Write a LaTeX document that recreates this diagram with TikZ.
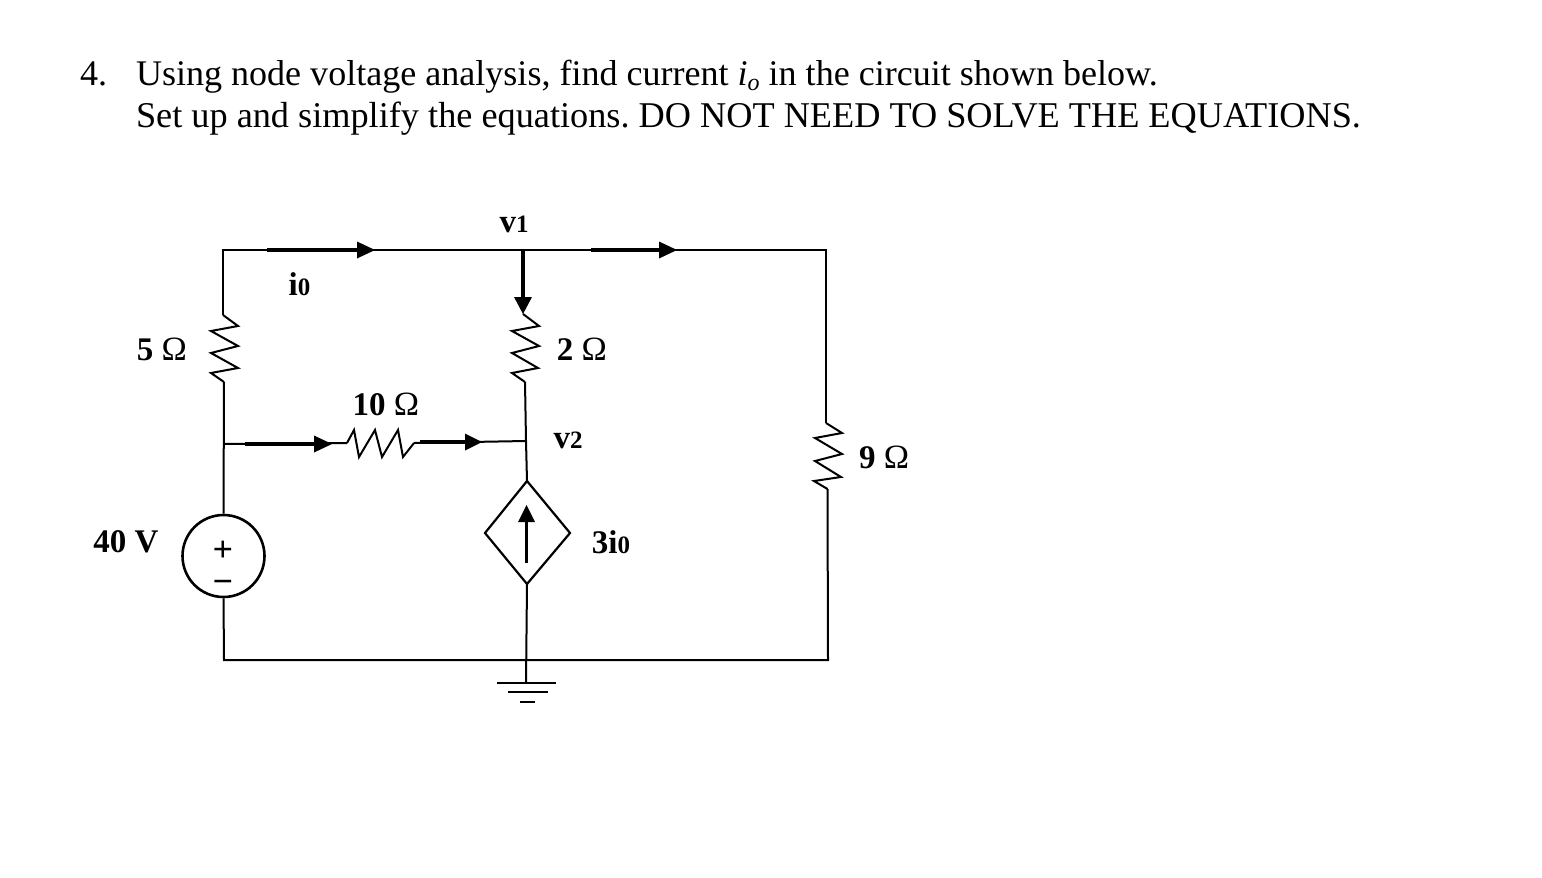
\documentclass[tikz,border=0pt]{standalone}
\usepackage{fontspec}
\setmainfont{Liberation Serif}
\usetikzlibrary{arrows.meta}
\newcommand{\bigsub}[2]{#1{\fontsize{25}{25}\selectfont #2}}
\newcommand{\ohm}{{\mdseries\fontsize{34}{34}\selectfont Ω}}
\tikzset{
  x=1pt,y=-1pt,
  wire/.style={line width=2pt,line join=miter,black},
  thickw/.style={line width=3.2pt,black},
  zig/.style={line width=2pt,line join=miter,black},
  tip/.style={fill=black,draw=none},
  prob/.style={anchor=base west,inner sep=0,outer sep=0,font=\fontsize{36.05}{42}\selectfont},
  probb/.style={anchor=base west,inner sep=0,outer sep=0,font=\fontsize{36.27}{42}\selectfont},
  lab/.style={inner sep=0,outer sep=0,font=\bfseries\fontsize{33}{33}\selectfont},
  sgn/.style={inner sep=0,outer sep=0,font=\bfseries\fontsize{36}{36}\selectfont},
}
\begin{document}
\frenchspacing
\begin{tikzpicture}
\useasboundingbox (0,0) rectangle (1542,878);
\fill[white] (0,0) rectangle (1542,878);
% text
\node[prob] (num) at (80,85) {4.};
\node[prob] (l1) at (136,85) {Using node voltage analysis, find current \textit{i}\raisebox{-5pt}{\fontsize{24}{24}\selectfont\textit{o}} in the circuit shown below.};
\node[probb] (l2) at (136,127) {Set up and simplify the equations. DO NOT NEED TO SOLVE THE EQUATIONS.};
% nodes
\coordinate (tl) at (223,250);
\coordinate (tm) at (523,250);
\coordinate (tr) at (826,250);
\coordinate (r5t) at (223,315);
\coordinate (r5b) at (224,382);
\coordinate (j) at (224,444);
\coordinate (st) at (224,515);
\coordinate (sb) at (224,597);
\coordinate (bl) at (224,660);
\coordinate (bm) at (526,660);
\coordinate (br) at (828,660);
\coordinate (r2t) at (523,314);
\coordinate (r2b) at (525,382);
\coordinate (v2) at (526,441);
\coordinate (r10l) at (347,443);
\coordinate (r10r) at (414,443);
\coordinate (r9t) at (826,423);
\coordinate (r9b) at (827.5,489);
\coordinate (gnd) at (526,683);
\coordinate (a1s) at (267,250);\coordinate (a1e) at (358,250);\coordinate (a1t) at (375,250);
\coordinate (a2s) at (591,250);\coordinate (a2e) at (659,250);\coordinate (a2t) at (677,250);
\coordinate (a3e) at (523,297);
\coordinate (a4s) at (245,444);\coordinate (a4e) at (314,444);\coordinate (a4t) at (332,444);
\coordinate (a5s) at (420,442);\coordinate (a5e) at (465,442);\coordinate (a5t) at (482,442);
\coordinate (da) at (527,481);\coordinate (db) at (570,533);\coordinate (dc) at (527,584);\coordinate (dd) at (485,533);
\coordinate (ias) at (526.5,563);\coordinate (iae) at (526.5,522);\coordinate (iat) at (526.5,505);
% source
\node[circle,draw=black,line width=2.6pt,minimum size=82pt,inner sep=0] (src) at (223.5,556) {};
% wires
\draw[wire] (r5t) -- (tl) -- (tr) -- (r9t);
\draw[wire] (r5b) -- (src.north);
\draw[wire] (src.south) -- (bl) -- (br) -- (r9b);
\draw[wire] (j) -- (r10l);
\draw[wire] (r10r) -- (v2);
\draw[wire] (r2b) -- (v2) -- (da);
\draw[wire] (dc) -- (gnd);
\draw[line width=2.2pt] (da) -- (db) -- (dc) -- (dd) -- cycle;
% resistors
\draw[zig] (r5t) -- (238,326) -- (211,331) -- (238,346) -- (211,353) -- (238,368) -- (211,373) -- (r5b);
\draw[zig] (r2t) -- (539,326) -- (512,331) -- (539,346) -- (512,353) -- (538,368) -- (512,373) -- (r2b);
\draw[zig] (r10l) -- (354,430) -- (359,457) -- (375,430) -- (382,457) -- (398,430) -- (403,457) -- (r10r);
\draw[zig] (r9t) -- (842,433) -- (815,438) -- (842,454) -- (815,461) -- (841,477) -- (814,481) -- (r9b);
% ground
\draw[wire] (497,683) -- (556,683);
\draw[wire] (508,692) -- (548,692);
\draw[wire] (520,702) -- (535,702);
% arrows
\draw[thickw] (a1s) -- (a1e);
\fill[tip] (a1t) -- (357,241.5) -- (357,258.5) -- cycle;
\draw[thickw] (a2s) -- (a2e);
\fill[tip] (a2t) -- (659,241.5) -- (659,258.5) -- cycle;
\draw[thickw] (tm) -- (a3e);
\fill[tip] (r2t) -- (514,297) -- (532,297) -- cycle;
\draw[thickw] (a4s) -- (a4e);
\fill[tip] (a4t) -- (314,435.5) -- (314,452.5) -- cycle;
\draw[thickw] (a5s) -- (a5e);
\fill[tip] (a5t) -- (465,433.5) -- (465,450.5) -- cycle;
\draw[thickw] (ias) -- (iae);
\fill[tip] (iat) -- (518,522) -- (535,522) -- cycle;
% labels
\node[lab] (L5) at (162,349) {5 \ohm};
\node[lab] (L2) at (582,349) {2 \ohm};
\node[lab] (L10) at (386,404) {10 \ohm};
\node[lab] (L9) at (884,457) {9 \ohm};
\node[lab] (L40) at (126,542) {40 V};
\node[lab] (Lv1) at (514,224) {\bigsub{v}{1}};
\node[lab] (Lv2) at (568,440) {\bigsub{v}{2}};
\node[lab] (Li0) at (299.5,284) {\bigsub{i}{0}};
\node[lab] (L3i) at (611,542) {\bigsub{3i}{0}};
\node[sgn] (plus) at (223,551) {+};
\node[sgn] (minus) at (223,587) {−};
\end{tikzpicture}
\end{document}
